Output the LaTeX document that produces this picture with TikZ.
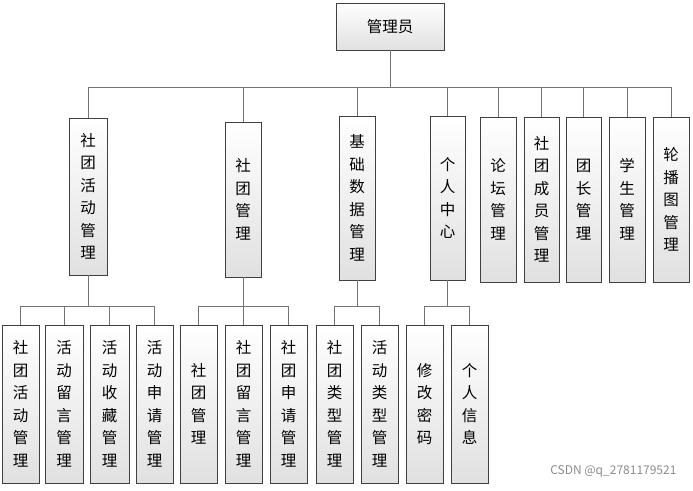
\documentclass[tikz,border=0pt]{standalone}
\usepackage{fontspec}
\setmainfont{Noto Sans CJK SC}
\begin{document}
\begin{tikzpicture}[x=1pt,y=-1pt,
  bx/.style={draw=black!75,line width=0.8pt,top color=white,bottom color=black!12,inner sep=0pt,align=center,font=\fontsize{15.5}{22.5}\selectfont},
  ln/.style={draw=black!55,line width=1pt}]
\useasboundingbox (0,0) rectangle (693,490);
\newcommand{\bx}[6]{\node[bx,minimum width={(#4-#2)*1pt},minimum height={(#5-#3)*1pt}] (#1) at ({(#2+#4)/2},{(#3+#5)/2}) {#6};}
\bx{root}{336}{3}{444}{50}{管理员}
\bx{a}{69}{118}{107}{275}{社\\团\\活\\动\\管\\理}
\bx{b}{225}{122}{261}{277}{社\\团\\管\\理}
\bx{c}{339}{116}{375}{280}{基\\础\\数\\据\\管\\理}
\bx{d}{430}{116}{465}{280}{个\\人\\中\\心}
\bx{e}{480}{117}{516}{282}{论\\坛\\管\\理}
\bx{f}{524}{117}{559}{282}{社\\团\\成\\员\\管\\理}
\bx{g}{566}{117}{601}{282}{团\\长\\管\\理}
\bx{h}{609}{117}{645}{282}{学\\生\\管\\理}
\bx{i}{653}{117}{689}{282}{轮\\播\\图\\管\\理}
\bx{a1}{2}{325}{39}{483}{社\\团\\活\\动\\管\\理}
\bx{a2}{45}{325}{83}{483}{活\\动\\留\\言\\管\\理}
\bx{a3}{90}{325}{129}{483}{活\\动\\收\\藏\\管\\理}
\bx{a4}{136}{325}{173}{483}{活\\动\\申\\请\\管\\理}
\bx{b1}{180}{325}{217}{483}{社\\团\\管\\理}
\bx{b2}{225}{325}{262}{483}{社\\团\\留\\言\\管\\理}
\bx{b3}{270}{325}{307}{483}{社\\团\\申\\请\\管\\理}
\bx{c1}{316}{325}{353}{483}{社\\团\\类\\型\\管\\理}
\bx{c2}{361}{325}{398}{483}{活\\动\\类\\型\\管\\理}
\bx{d1}{406}{325}{443}{483}{修\\改\\密\\码}
\bx{d2}{451}{325}{488}{483}{个\\人\\信\\息}
\coordinate (top) at (390,87);
\draw[ln] (root.south) -- (top);
\draw[ln] (a.north |- top) -- (i.north |- top);
\foreach \n in {a,b,c,d,e,f,g,h,i} \draw[ln] (\n.north |- top) -- (\n.north);
\foreach \p/\l/\r in {a/a1/a4,b/b1/b3,c/c1/c2,d/d1/d2}{
  \draw[ln] (\p.south) -- (\p.south |- 0,306);
  \draw[ln] (\l.north |- 0,306) -- (\r.north |- 0,306);
}
\foreach \n in {a1,a2,a3,a4,b1,b2,b3,c1,c2,d1,d2} \draw[ln] (\n.north |- 0,306) -- (\n.north);
\node[font=\fontsize{12}{14}\selectfont,text=black!45,anchor=east] (wm) at (680,471) {CSDN @q\_2781179521};
\end{tikzpicture}
\end{document}
